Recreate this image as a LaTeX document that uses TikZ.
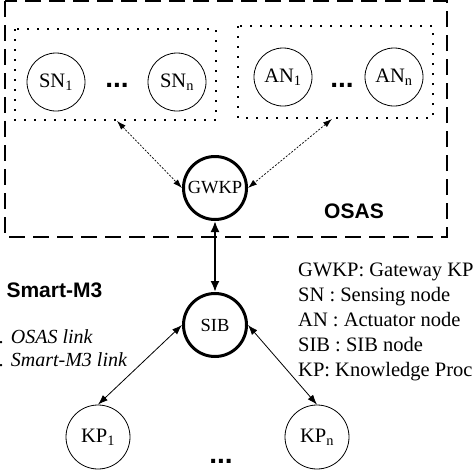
\documentclass[tikz,border=0pt]{standalone}
\usepackage{fontspec}
\setmainfont{Liberation Serif}
\setsansfont{Liberation Sans}
\usetikzlibrary{arrows.meta}

\tikzset{
  member/.style={draw, circle, minimum size=58pt, inner sep=0pt, line width=0.8pt,
    font=\fontsize{20.5}{22}\selectfont},
  kpnode/.style={member, minimum size=64pt},
  hub/.style={member, minimum size=63pt, line width=3pt, font=\fontsize{18.5}{20}\selectfont},
  groupbox/.style={line width=2pt, dash pattern=on 2pt off 8pt},
  osasbox/.style={line width=2.6pt, dash pattern=on 16pt off 8pt},
  osaslink/.style={{Latex[length=9pt,width=6pt]}-{Latex[length=9pt,width=6pt]}, line width=0.7pt, dash pattern=on 2pt off 1.5pt},
  m3link/.style={{Latex[length=10pt,width=7pt]}-{Latex[length=10pt,width=7pt]}, line width=0.8pt},
  uplink/.style={{Latex[length=11pt,width=9pt]}-{Latex[length=11pt,width=9pt]}, line width=2pt},
  ellipsis/.style={font=\fontsize{28}{28}\bfseries\sffamily, anchor=base, inner sep=0pt},
  title/.style={font=\fontsize{21}{23}\bfseries\sffamily},
  legend/.style={font=\fontsize{20.5}{25}\selectfont, align=left, anchor=north west, inner sep=0pt}
}

\begin{document}
\begin{tikzpicture}[x=1pt,y=-1pt]
  \useasboundingbox (0,0) rectangle (474,474);
  \clip (0,0) rectangle (474,474);

  \draw[osasbox] (5,1) rectangle (447,237);
  \draw[groupbox] (15,29) rectangle (216,120);
  \draw[groupbox] (238,26) rectangle (433,118);
  \coordinate (snbox) at (117,121);
  \coordinate (anbox) at (332,119);

  \node[member] (sn1) at (56,82) {SN$_\mathrm{1}$};
  \node[member] (snn) at (177,82) {SN$_\mathrm{n}$};
  \node[ellipsis] (sndots) at (117,87) {...};
  \node[member] (an1) at (283,77) {AN$_\mathrm{1}$};
  \node[member] (ann) at (394,77) {AN$_\mathrm{n}$};
  \node[ellipsis] (andots) at (342,87) {...};

  \node[hub] (gwkp) at (215,188) {GWKP};
  \node[hub] (sib) at (215,325) {SIB};
  \node[kpnode] (kp1) at (98,437) {KP$_\mathrm{1}$};
  \node[kpnode] (kpn) at (317,437) {KP$_\mathrm{n}$};
  \node[ellipsis] (kpdots) at (221,463) {...};

  \draw[osaslink] (snbox) -- (gwkp.west);
  \draw[osaslink] (anbox) -- (gwkp.east);
  \draw[uplink] (gwkp) -- (sib);
  \draw[m3link] (sib.west) -- (kp1.north);
  \draw[m3link] (sib.east) -- (kpn.north);

  \node[title] (osas) at (354,211) {OSAS};
  \node[title, anchor=west] (m3) at (3,290) {Smart-M3};
  \node[legend, font=\fontsize{20}{23.5}\itshape] (links) at (-1,329) {. OSAS link\\. Smart-M3 link};
  \node[legend] (keys) at (298,263) {GWKP: Gateway KP\\SN : Sensing node\\AN : Actuator node\\SIB : SIB node\\KP: Knowledge Proc};
\end{tikzpicture}
\end{document}
